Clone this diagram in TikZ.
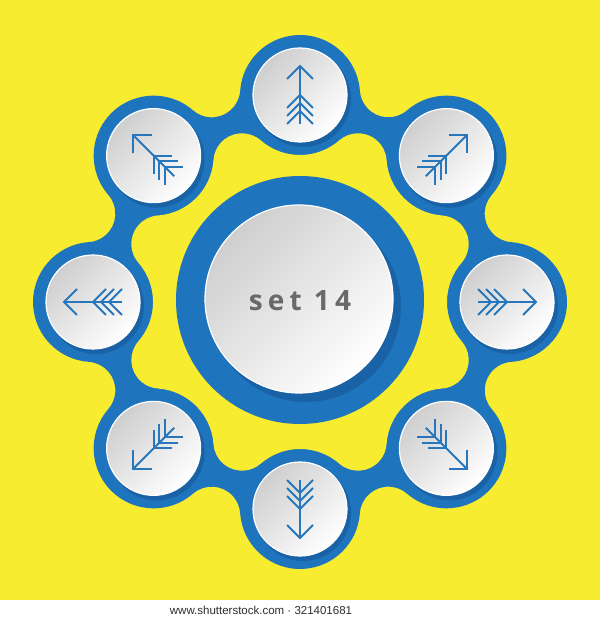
\documentclass[tikz,border=0pt]{standalone}
\usepackage{fontspec}
\usepackage{tikz}
\usetikzlibrary{calc}
\setmainfont{Liberation Sans}
\newfontfamily\badgefont[LetterSpace=18]{Open Sans}
\definecolor{bgyellow}{RGB}{247,236,47}
\definecolor{ringblue}{RGB}{31,116,190}
\definecolor{shadeblue}{RGB}{25,98,165}
\definecolor{arrowblue}{RGB}{40,118,188}
\definecolor{labelgray}{RGB}{105,105,105}
\definecolor{creditgray}{RGB}{45,45,45}

\begin{document}
\begin{tikzpicture}[x=1pt,y=1pt]
	\tikzstyle{every node}=[inner sep=0pt, outer sep=0pt];
	\tikzstyle{disc}=[top color=gray!38, bottom color=white, shading angle=45];
	\tikzstyle{rim}=[white, line width=1.2pt];
	\tikzstyle{dart}=[arrowblue, line width=2pt];
	\useasboundingbox (0,0) rectangle (600,620);
	\fill[white] (0,0) rectangle (600,20);
	\fill[bgyellow] (0,20) rectangle (600,620);

	\pgfmathsetmacro{\ringR}{207}
	\pgfmathsetmacro{\beadR}{60}
	\pgfmathsetmacro{\bandW}{11}
	\pgfmathsetmacro{\halfH}{\ringR*sin(22.5)}
	\pgfmathsetmacro{\filT}{(\halfH*\halfH-(\beadR-\bandW)^2)/(2*(\beadR-\bandW))}
	\pgfmathsetmacro{\filR}{\filT-\bandW}
	\pgfmathsetmacro{\filA}{atan2(\halfH,\filT)}

	\begin{scope}[shift={(300,318)}]
	% chain of beads, outer edge
	\fill[ringblue] ($(0:\ringR)+(-\filA-22.5:\beadR)$)
		\foreach \k in {0,...,7}{
			arc[start angle=\k*45-\filA-22.5, end angle=\k*45+\filA+22.5, radius=\beadR]
			arc[start angle=\k*45+202.5+\filA, end angle=\k*45+202.5-\filA, radius=\filR]
		} -- cycle;
	% inner edge
	\fill[bgyellow] ($(0:\ringR)+(157.5+\filA:\beadR)$)
		\foreach \k in {0,...,7}{
			arc[start angle=\k*45+157.5+\filA, end angle=\k*45+202.5-\filA, radius=\beadR]
			arc[start angle=\k*45+22.5-\filA, end angle=\k*45+22.5+\filA, radius=\filR]
		} -- cycle;

	% big disc
	\fill[ringblue] (0,2) circle (124);
	\fill[shadeblue] (6,-5) circle (95);
	\shade[disc] (-1,3) circle (94);
	\draw[rim] (-1,3) circle (94);
	\node[text=labelgray] (label) at (0,1) {\badgefont\bfseries\fontsize{28}{30}\selectfont set 14};

	% small discs with arrows
	\foreach \k in {0,...,7}{
		\fill[shadeblue] ($(\k*45:\ringR)+(3,-4)$) circle (48);
		\shade[disc] (\k*45:\ringR) circle (47);
		\draw[rim] (\k*45:\ringR) circle (47);
		\begin{scope}[shift={(\k*45:\ringR)}, rotate=\k*45]
			\draw[dart] (-29,0) -- (29,0);
			\draw[dart] (16,13) -- (29,0) -- (16,-13);
			\foreach \v in {0,-8,-16}
				\draw[dart] (\v-13,13) -- (\v,0) -- (\v-13,-13);
		\end{scope}
	}
	\end{scope}

	\node[text=creditgray, font=\fontsize{11.5}{13}\selectfont] (credit) at (261,10) {www.shutterstock.com · 321401681};
\end{tikzpicture}
\end{document}
